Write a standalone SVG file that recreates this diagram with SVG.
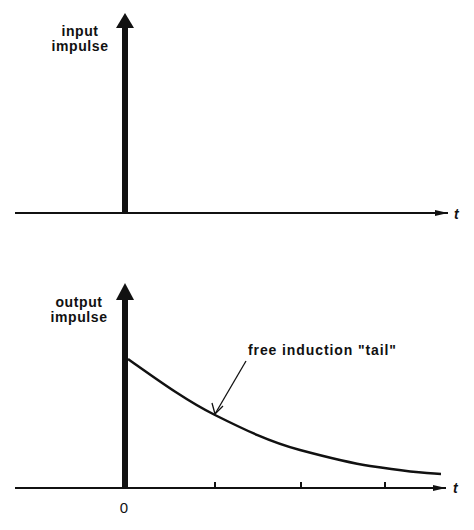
<svg xmlns="http://www.w3.org/2000/svg" width="474" height="530" viewBox="0 0 474 530">
<style>
.lbl{font-family:"Liberation Sans",Arial,sans-serif;font-weight:bold;font-size:14px;letter-spacing:0.6px;fill:#111}
.t{font-family:"Liberation Sans",Arial,sans-serif;font-weight:bold;font-style:italic;font-size:14px;fill:#111}
.axis{stroke:#111;stroke-width:2;fill:none}
.bar{stroke:#111;stroke-width:6;fill:none}
.curve{stroke:#111;stroke-width:2.5;fill:none}
.ptr{stroke:#111;stroke-width:1.3;fill:none}
</style>
<defs>
<marker id="axhead" markerUnits="userSpaceOnUse" markerWidth="14" markerHeight="8" refX="13" refY="4" orient="auto">
<path d="M0,1 L13,4 L0,7 Z" fill="#111"/>
</marker>
</defs>
<rect width="474" height="530" fill="#fff"/>
<g id="top-graph">
<line class="axis" x1="15" y1="213" x2="448" y2="213" marker-end="url(#axhead)"/>
<line class="bar" x1="125" y1="213" x2="125" y2="26"/>
<path d="M116,28 L125,13 L134,28 Z" fill="#111"/>
<text class="lbl" x="80" y="36" text-anchor="middle">input</text>
<text class="lbl" x="80" y="51" text-anchor="middle">impulse</text>
<text class="t" x="454" y="219">t</text>
</g>
<g id="bottom-graph">
<line class="axis" x1="15" y1="488" x2="446" y2="488" marker-end="url(#axhead)"/>
<line class="axis" x1="215" y1="488" x2="215" y2="482"/>
<line class="axis" x1="301" y1="488" x2="301" y2="482"/>
<line class="axis" x1="385" y1="488" x2="385" y2="482"/>
<line class="bar" x1="125" y1="488" x2="125" y2="297"/>
<path d="M116,300 L125,283 L134,300 Z" fill="#111"/>
<text class="lbl" x="79" y="307" text-anchor="middle">output</text>
<text class="lbl" x="79" y="322" text-anchor="middle">impulse</text>
<text class="t" x="453" y="493">t</text>
<text x="124" y="513" text-anchor="middle" style="font-family:'Liberation Sans',Arial,sans-serif;font-size:15px;fill:#111">0</text>
<path class="curve" d="M128,359 C155,378 185,400 215,415 S270,442 300,450 S350,463 370,466 S420,473 441,474"/>
</g>
<g id="connectors">
<line class="ptr" x1="246" y1="361" x2="215" y2="414"/>
<path class="ptr" d="M212,403 L215,414 L223,406"/>
</g>
<g id="annotation">
<text class="lbl" x="248" y="355" style="letter-spacing:0.9px">free induction "tail"</text>
</g>
</svg>
